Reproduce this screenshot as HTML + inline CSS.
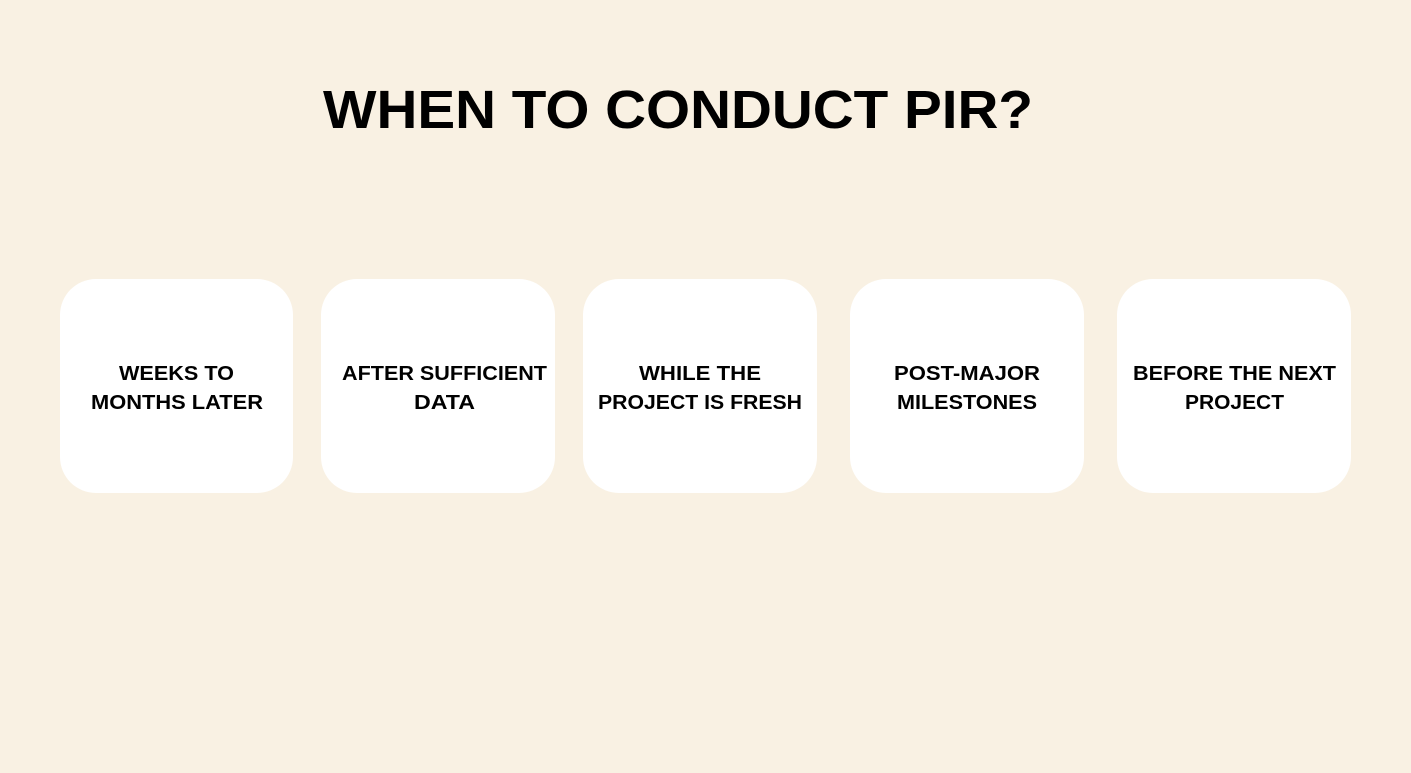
<!DOCTYPE html>
<html><head><meta charset="utf-8"><style>
html,body{margin:0;padding:0;background:#f9f1e3;}
svg{display:block}
text{font-family:"Liberation Sans",sans-serif;font-weight:bold;fill:#000;}
</style></head><body>
<svg width="1411" height="773" viewBox="0 0 1411 773">
<rect width="1411" height="773" fill="#f9f1e3"/>
<text x="323" y="128" font-size="54" textLength="710" lengthAdjust="spacingAndGlyphs">WHEN TO CONDUCT PIR?</text>
<g fill="#fff">
<rect x="60" y="279" width="233" height="214" rx="36"/>
<rect x="321" y="279" width="234" height="214" rx="36"/>
<rect x="583" y="279" width="234" height="214" rx="36"/>
<rect x="850" y="279" width="234" height="214" rx="36"/>
<rect x="1117" y="279" width="234" height="214" rx="36"/>
</g>
<g font-size="20">
<text x="119" y="380" textLength="115" lengthAdjust="spacingAndGlyphs">WEEKS TO</text>
<text x="91" y="409" textLength="172" lengthAdjust="spacingAndGlyphs">MONTHS LATER</text>
<text x="342" y="380" textLength="205" lengthAdjust="spacingAndGlyphs">AFTER SUFFICIENT</text>
<text x="414" y="409" textLength="61" lengthAdjust="spacingAndGlyphs">DATA</text>
<text x="639" y="380" textLength="122" lengthAdjust="spacingAndGlyphs">WHILE THE</text>
<text x="598" y="409" textLength="204" lengthAdjust="spacingAndGlyphs">PROJECT IS FRESH</text>
<text x="894" y="380" textLength="146" lengthAdjust="spacingAndGlyphs">POST-MAJOR</text>
<text x="897" y="409" textLength="140" lengthAdjust="spacingAndGlyphs">MILESTONES</text>
<text x="1133" y="380" textLength="203" lengthAdjust="spacingAndGlyphs">BEFORE THE NEXT</text>
<text x="1185" y="409" textLength="99" lengthAdjust="spacingAndGlyphs">PROJECT</text>
</g>
</svg>
</body></html>
